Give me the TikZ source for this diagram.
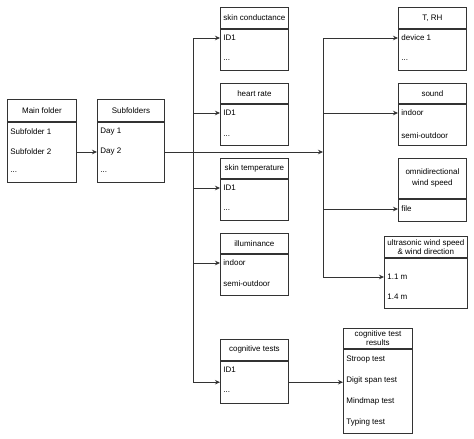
\documentclass[tikz,border=0pt]{standalone}
\usepackage{fontspec}
\setmainfont{Liberation Sans}
\usetikzlibrary{arrows.meta,positioning}
\tikzset{
  hdr/.style={draw,anchor=north west,minimum width=68pt,inner sep=1pt,align=center,font=\fontsize{8}{11}\selectfont},
  tight/.style={font=\fontsize{8}{9}\selectfont},
  bodybox/.style={draw,minimum width=68pt,inner sep=0pt},
  row/.style={anchor=west,inner xsep=3pt,inner ysep=1pt,font=\fontsize{8}{10}\selectfont},
  arr/.style={-{Stealth[length=5pt,width=4.5pt]}},
}
\begin{document}
\begin{tikzpicture}[x=1pt,y=-1pt,line width=0.8pt,draw=black!80]
\useasboundingbox[fill=white] (0,0) rectangle (474,439);
% folders
\node[hdr,minimum width=69pt,minimum height=22pt] (mf) at (7,99) {Main folder};
\node[bodybox,minimum width=69pt,minimum height=60pt,below=0pt of mf] (mfb) {};
\node[row] (m1) at (7,132) {Subfolder 1}; \node[row] (m2) at (7,152) {Subfolder 2}; \node[row] (m3) at (7,172) {...};
\node[hdr,minimum width=67pt,minimum height=22pt] (sf) at (97,99) {Subfolders};
\node[bodybox,minimum width=67pt,minimum height=60pt,below=0pt of sf] (sfb) {};
\node[row] (d1) at (97,132) {Day 1}; \node[row] (d2) at (97,152) {Day 2}; \node[row] (d3) at (97,172) {...};
% left column
\node[hdr,minimum height=21pt] (sc) at (220,7) {skin conductance};
\node[bodybox,minimum height=41pt,below=0pt of sc] (scb) {};
\node[row] (sc1) at (220,38) {ID1}; \node[row] (sc2) at (220,60) {...};
\node[hdr,minimum height=20pt] (hr) at (220,83) {heart rate};
\node[bodybox,minimum height=41pt,below=0pt of hr] (hrb) {};
\node[row] (hr1) at (220,113) {ID1}; \node[row] (hr2) at (220,136) {...};
\node[hdr,minimum height=20pt] (st) at (220,158) {skin temperature};
\node[bodybox,minimum height=41pt,below=0pt of st] (stb) {};
\node[row] (st1) at (220,188) {ID1}; \node[row] (st2) at (220,210) {...};
\node[hdr,minimum height=20pt] (il) at (220,233) {illuminance};
\node[bodybox,minimum height=41pt,below=0pt of il] (ilb) {};
\node[row] (il1) at (220,263) {indoor}; \node[row] (il2) at (220,284) {semi-outdoor};
\node[hdr,minimum height=21pt] (ct) at (220,339) {cognitive tests};
\node[bodybox,minimum height=42pt,below=0pt of ct] (ctb) {};
\node[row] (ct1) at (220,370) {ID1}; \node[row] (ct2) at (220,392) {...};
% right column
\node[hdr,minimum height=21pt] (th) at (398,7) {T, RH};
\node[bodybox,minimum height=41pt,below=0pt of th] (thb) {};
\node[row] (th1) at (398,38) {device 1}; \node[row] (th2) at (398,60) {...};
\node[hdr,minimum height=20pt] (sd) at (398,83) {sound};
\node[bodybox,minimum height=41pt,below=0pt of sd] (sdb) {};
\node[row] (sd1) at (398,113) {indoor}; \node[row] (sd2) at (398,136) {semi-outdoor};
\node[hdr,minimum height=40pt] (ow) at (398,158) {omnidirectional\\wind speed};
\node[bodybox,minimum height=22pt,below=0pt of ow] (owb) {};
\node[row] (ow1) at (398,209) {file};
\node[hdr,tight,minimum width=83pt,minimum height=21pt] (us) at (384,236) {ultrasonic wind speed\\\& wind direction};
\node[bodybox,minimum width=83pt,minimum height=50pt,below=0pt of us] (usb) {};
\node[row] (us1) at (384,277) {1.1 m}; \node[row] (us2) at (384,297) {1.4 m};
\node[hdr,tight,minimum width=69pt,minimum height=20pt] (cr) at (343,328) {cognitive test\\results};
\node[bodybox,minimum width=69pt,minimum height=84pt,below=0pt of cr] (crb) {};
\node[row] (cr1) at (343,360) {Stroop test}; \node[row] (cr2) at (343,380) {Digit span test};
\node[row] (cr3) at (343,401) {Mindmap test}; \node[row] (cr4) at (343,422) {Typing test};
% trunks
\coordinate (tl) at (193,152);
\coordinate (tr) at (323,152);
\draw[arr] (m2 -| mfb.east) -- (d2.west);
\draw[arr] (d2 -| sfb.east) -- (tr);
\draw (sc1 -| tl) -- (ctb.west -| tl);
\draw (th1 -| tr) -- (us1 -| tr);
\foreach \r in {sc1,hr1,st1,il1} \draw[arr] (\r -| tl) -- (\r.west);
\draw[arr] (ctb.west -| tl) -- (ctb.west);
\foreach \r in {th1,sd1,ow1,us1} \draw[arr] (\r -| tr) -- (\r.west);
\draw[arr] (ctb.east) -- (ctb.east -| crb.west);
\end{tikzpicture}
\end{document}
